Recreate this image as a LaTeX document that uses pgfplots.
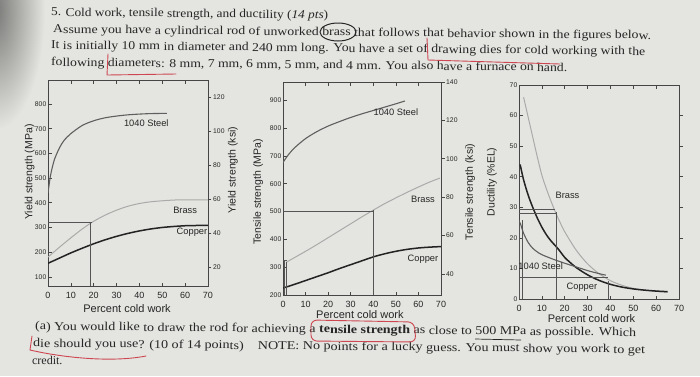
\documentclass[border=0pt]{standalone}
\usepackage{pgfplots}
\pgfplotsset{compat=1.18}
\usepackage{graphicx}
\usepackage{fontspec}
\setmainfont{Liberation Serif}
\newfontfamily\sans{Liberation Sans}
\definecolor{paper}{RGB}{228,228,224}
\definecolor{ink}{RGB}{38,38,38}
\definecolor{axc}{RGB}{70,70,70}
\definecolor{steelc}{RGB}{95,95,95}
\definecolor{brassc}{RGB}{170,170,170}
\definecolor{copperc}{RGB}{35,35,35}
\definecolor{guide}{RGB}{85,85,85}
\definecolor{redpen}{RGB}{205,70,80}
\tikzset{cl/.style={font=\sans\fontsize{9.3}{10}\selectfont, text=ink}}
\pgfplotsset{
  base/.style={scale only axis, anchor=south west, xmin=0, xmax=70,
    axis line style={draw=axc, line width=0.7pt},
    tick style={draw=axc, line width=0.6pt},
    major tick length=3.5pt, tick align=inside,
    /pgf/number format/assume math mode=true,
    tick label style={text=ink},
    yticklabel style={font=\sans\fontsize{6.8}{8}\selectfont, inner xsep=1.5pt},
    xticklabel style={font=\sans\fontsize{9}{10}\selectfont},
    xlabel style={font=\sans\fontsize{11}{12}\selectfont, text=ink, anchor=center},
    ylabel style={font=\sans\fontsize{10.5}{12}\selectfont, text=ink, anchor=center},
  },
  leftax/.style={base, ytick pos=left, xtick={0,10,...,70}, xtick pos=both, xticklabel pos=lower,
    xticklabel style={yshift=-3pt}},
  rightax/.style={base, axis x line=none, axis y line*=right,
    y tick style={xshift=3.5pt}, yticklabel style={xshift=3.5pt}},
  gl/.style={guide, line width=0.55pt, forget plot},
  st/.style={steelc, line width=1.1pt, smooth},
  br/.style={brassc, line width=1.0pt, smooth},
  cu/.style={copperc, line width=1.5pt, smooth},
}
\newcommand\tline[5]{\node[anchor=west, inner sep=0pt, rotate=-0.6, text=ink] at (#1pt,-#2pt) {\resizebox{#3pt}{\height}{\fontsize{12}{14}\selectfont #5}};}
\begin{document}
\begin{tikzpicture}
\useasboundingbox (0,0) rectangle (700pt,-376pt);
\fill[paper] (0,0) rectangle (700pt,-376pt);
\begin{scope}
\clip (0,0) rectangle (700pt,-376pt);
\shade[inner color={rgb,255:red,120;green,120;blue,118}, outer color=paper] (-5pt,-10pt) ellipse (50pt and 120pt);
\end{scope}

% ---------- question text ----------
\tline{51}{13}{277}{}{5. Cold work, tensile strength, and ductility (\textit{14 pts})}
\tline{53}{30}{598}{}{Assume you have a cylindrical rod of unworked brass that follows that behavior shown in the figures below.}
\tline{51}{46}{594}{}{It is initially 10 mm in diameter and 240 mm long. You have a set of drawing dies for cold working with the}
\tline{51}{63}{516}{}{following diameters: 8 mm, 7 mm, 6 mm, 5 mm, and 4 mm. You also have a furnace on hand.}
\tline{35}{327}{601}{}{(a) You would like to draw the rod for achieving a \textbf{tensile strength} as close to 500 MPa as possible. Which}
\tline{33}{344}{612}{}{die should you use? (10 of 14 points)\quad NOTE: No points for a lucky guess. You must show you work to get}
\node[anchor=west, inner sep=0pt, rotate=-0.6, text=ink] at (32pt,-360pt) {\fontsize{12}{14}\selectfont credit.};

% pen marks
\draw[ink, line width=1pt] (338pt,-32pt) ellipse (18pt and 9pt);
\draw[redpen, line width=0.9pt, line cap=round] (108pt,-54pt) -- (107pt,-75pt) -- (176pt,-74pt);
\draw[redpen, line width=0.9pt, line cap=round] (427pt,-38pt) -- (428pt,-60pt) -- (560pt,-64pt);
\draw[redpen, line width=0.9pt, rounded corners=6pt] (311pt,-320pt) -- (414pt,-322pt) -- (416pt,-342pt) -- (311pt,-341pt) -- cycle;
\draw[redpen, line width=0.9pt, line cap=round] (32pt,-336pt) -- (30pt,-350pt) .. controls (60pt,-357pt) and (110pt,-363pt) .. (146pt,-356pt);
\draw[ink, line width=0.7pt] (475pt,-339pt) -- (521pt,-340pt);

% ---------- Chart 1: yield strength ----------
\begin{axis}[leftax, at={(48pt,-286pt)}, width=160pt, height=206pt,
  ymin=63, ymax=897, ytick={100,200,...,800},
  xlabel={Percent cold work}, xlabel style={at={(axis description cs:0.494,-0.110)}},
  ylabel={Yield strength (MPa)}, ylabel style={at={(axis description cs:-0.115,0.553)}}]
\addplot[st] coordinates {(0,440)(1,505)(2,548)(3,580)(5,622)(7,652)(10,680)(15,713)(20,732)(25,744)(30,751)(35,756)(40,759)(45,761)(52,762)};
\addplot[br] coordinates {(0,180)(5,220)(10,258)(15,294)(20,325)(25,350)(30,370)(35,386)(40,397)(45,404)(50,408)(55,411)(60,412)(65,412)(70,412)};
\addplot[cu] coordinates {(0,155)(5,176)(10,197)(15,216)(20,234)(25,250)(30,264)(35,276)(40,286)(45,294)(50,300)(55,304)(60,307)(65,308)(70,308)};
\addplot[gl] coordinates {(0,322)(19.3,322)};
\addplot[gl] coordinates {(18.5,63)(18.5,322)};
\node[cl] at (axis cs:43,724) {1040 Steel};
\node[cl] at (axis cs:60,371) {Brass};
\node[cl] at (axis cs:63,280) {Copper};
\end{axis}
\begin{axis}[rightax, at={(48pt,-286pt)}, width=160pt, height=206pt,
  ymin=9.137, ymax=130.1, ytick={20,40,...,120},
  ylabel={Yield strength (ksi)}, ylabel style={at={(axis description cs:1.156,0.563)}}]
\end{axis}

% ---------- Chart 2: tensile strength ----------
\begin{axis}[leftax, at={(283pt,-295pt)}, width=158pt, height=213pt,
  ymin=200, ymax=965.3, ytick={200,300,...,900},
  xlabel={Percent cold work}, xlabel style={at={(axis description cs:0.487,-0.094)}},
  ylabel={Tensile strength (MPa)}, ylabel style={at={(axis description cs:-0.158,0.484)}}]
\addplot[st] coordinates {(0,676)(2,700)(5,728)(10,762)(15,787)(20,807)(25,823)(30,838)(35,851)(40,863)(45,875)(50,887)(54,897)};
\addplot[br] coordinates {(1.5,318)(5,334)(10,357)(15,381)(20,406)(25,431)(30,456)(35,481)(40,505)(45,528)(50,549)(55,569)(60,588)(65,606)(69.5,620)};
\addplot[cu] coordinates {(0,225)(5,238)(10,252)(15,266)(20,280)(25,295)(30,309)(35,323)(40,337)(45,348)(50,357)(55,364)(60,369)(65,372)(70,374)};
\addplot[gl] coordinates {(0,500)(40,500)};
\addplot[gl] coordinates {(40,200)(40,505)};
\addplot[gl] coordinates {(0.6,200)(0.6,325)};
\addplot[gl] coordinates {(1.6,200)(1.6,320)};
\addplot[gl] coordinates {(0,325)(1.6,325)};
\node[cl] at (axis cs:50,858) {1040 Steel};
\node[cl] at (axis cs:62,544) {Brass};
\node[cl] at (axis cs:62,327) {Copper};
\end{axis}
\begin{axis}[rightax, at={(283pt,-295pt)}, width=158pt, height=213pt,
  ymin=29.007, ymax=140, ytick={40,60,...,140},
  ylabel={Tensile strength (ksi)}, ylabel style={at={(axis description cs:1.184,0.484)}}]
\end{axis}

% ---------- Chart 3: ductility ----------
\begin{axis}[leftax, at={(519pt,-299pt)}, width=160pt, height=214pt,
  ymin=0, ymax=70, ytick={0,10,...,70},
  xlabel={Percent cold work}, xlabel style={at={(axis description cs:0.453,-0.092)}},
  ylabel={Ductility (\%EL)}, ylabel style={at={(axis description cs:-0.169,0.547)}}]
\addplot[br] coordinates {(2,66)(4,59.5)(6,53)(8,46.5)(10,40.5)(12,36)(14,32)(16,28.3)(18,25)(20,22)(25,16)(30,11.5)(35,8.3)(40,6)(45,4.5)(50,3.5)(55,2.9)(60,2.5)(65,2.2)};
\addplot[cu] coordinates {(0.5,44)(2,39)(4,34)(6,30)(8,26.5)(10,23.5)(12,21)(14,19)(17,16.5)(20,13.6)(22,12.2)(25,10.3)(30,7.9)(35,6.1)(40,4.8)(45,3.9)(50,3.3)(55,2.9)(60,2.6)(65,2.4)};
\addplot[st] coordinates {(0.5,25)(2,21.5)(4,18.5)(6,16.6)(8,15.4)(10,14.5)(15,13)(20,11.7)(25,10.5)(30,9.3)(35,8.3)(38,7.8)};
\addplot[gl] coordinates {(0,28)(16.5,28)};
\addplot[gl] coordinates {(0,29.3)(15.8,29.3)};
\addplot[gl] coordinates {(16.5,0)(16.5,28.5)};
\addplot[gl] coordinates {(0.3,0)(0.3,26)};
\addplot[gl] coordinates {(1.3,0)(1.3,26)};
\addplot[gl] coordinates {(0,7)(39,7)};
\addplot[gl] coordinates {(39,0)(39,6)};
\node[cl] at (axis cs:21.2,34) {Brass};
\node[cl] at (axis cs:9.5,10.8) {1040 Steel};
\node[cl] at (axis cs:27.5,3.8) {Copper};
\end{axis}
\begin{axis}[rightax, at={(519pt,-299pt)}, width=160pt, height=214pt,
  ymin=0, ymax=70, ytick={10,20,...,60}, yticklabels={}]
\end{axis}
\end{tikzpicture}
\end{document}
